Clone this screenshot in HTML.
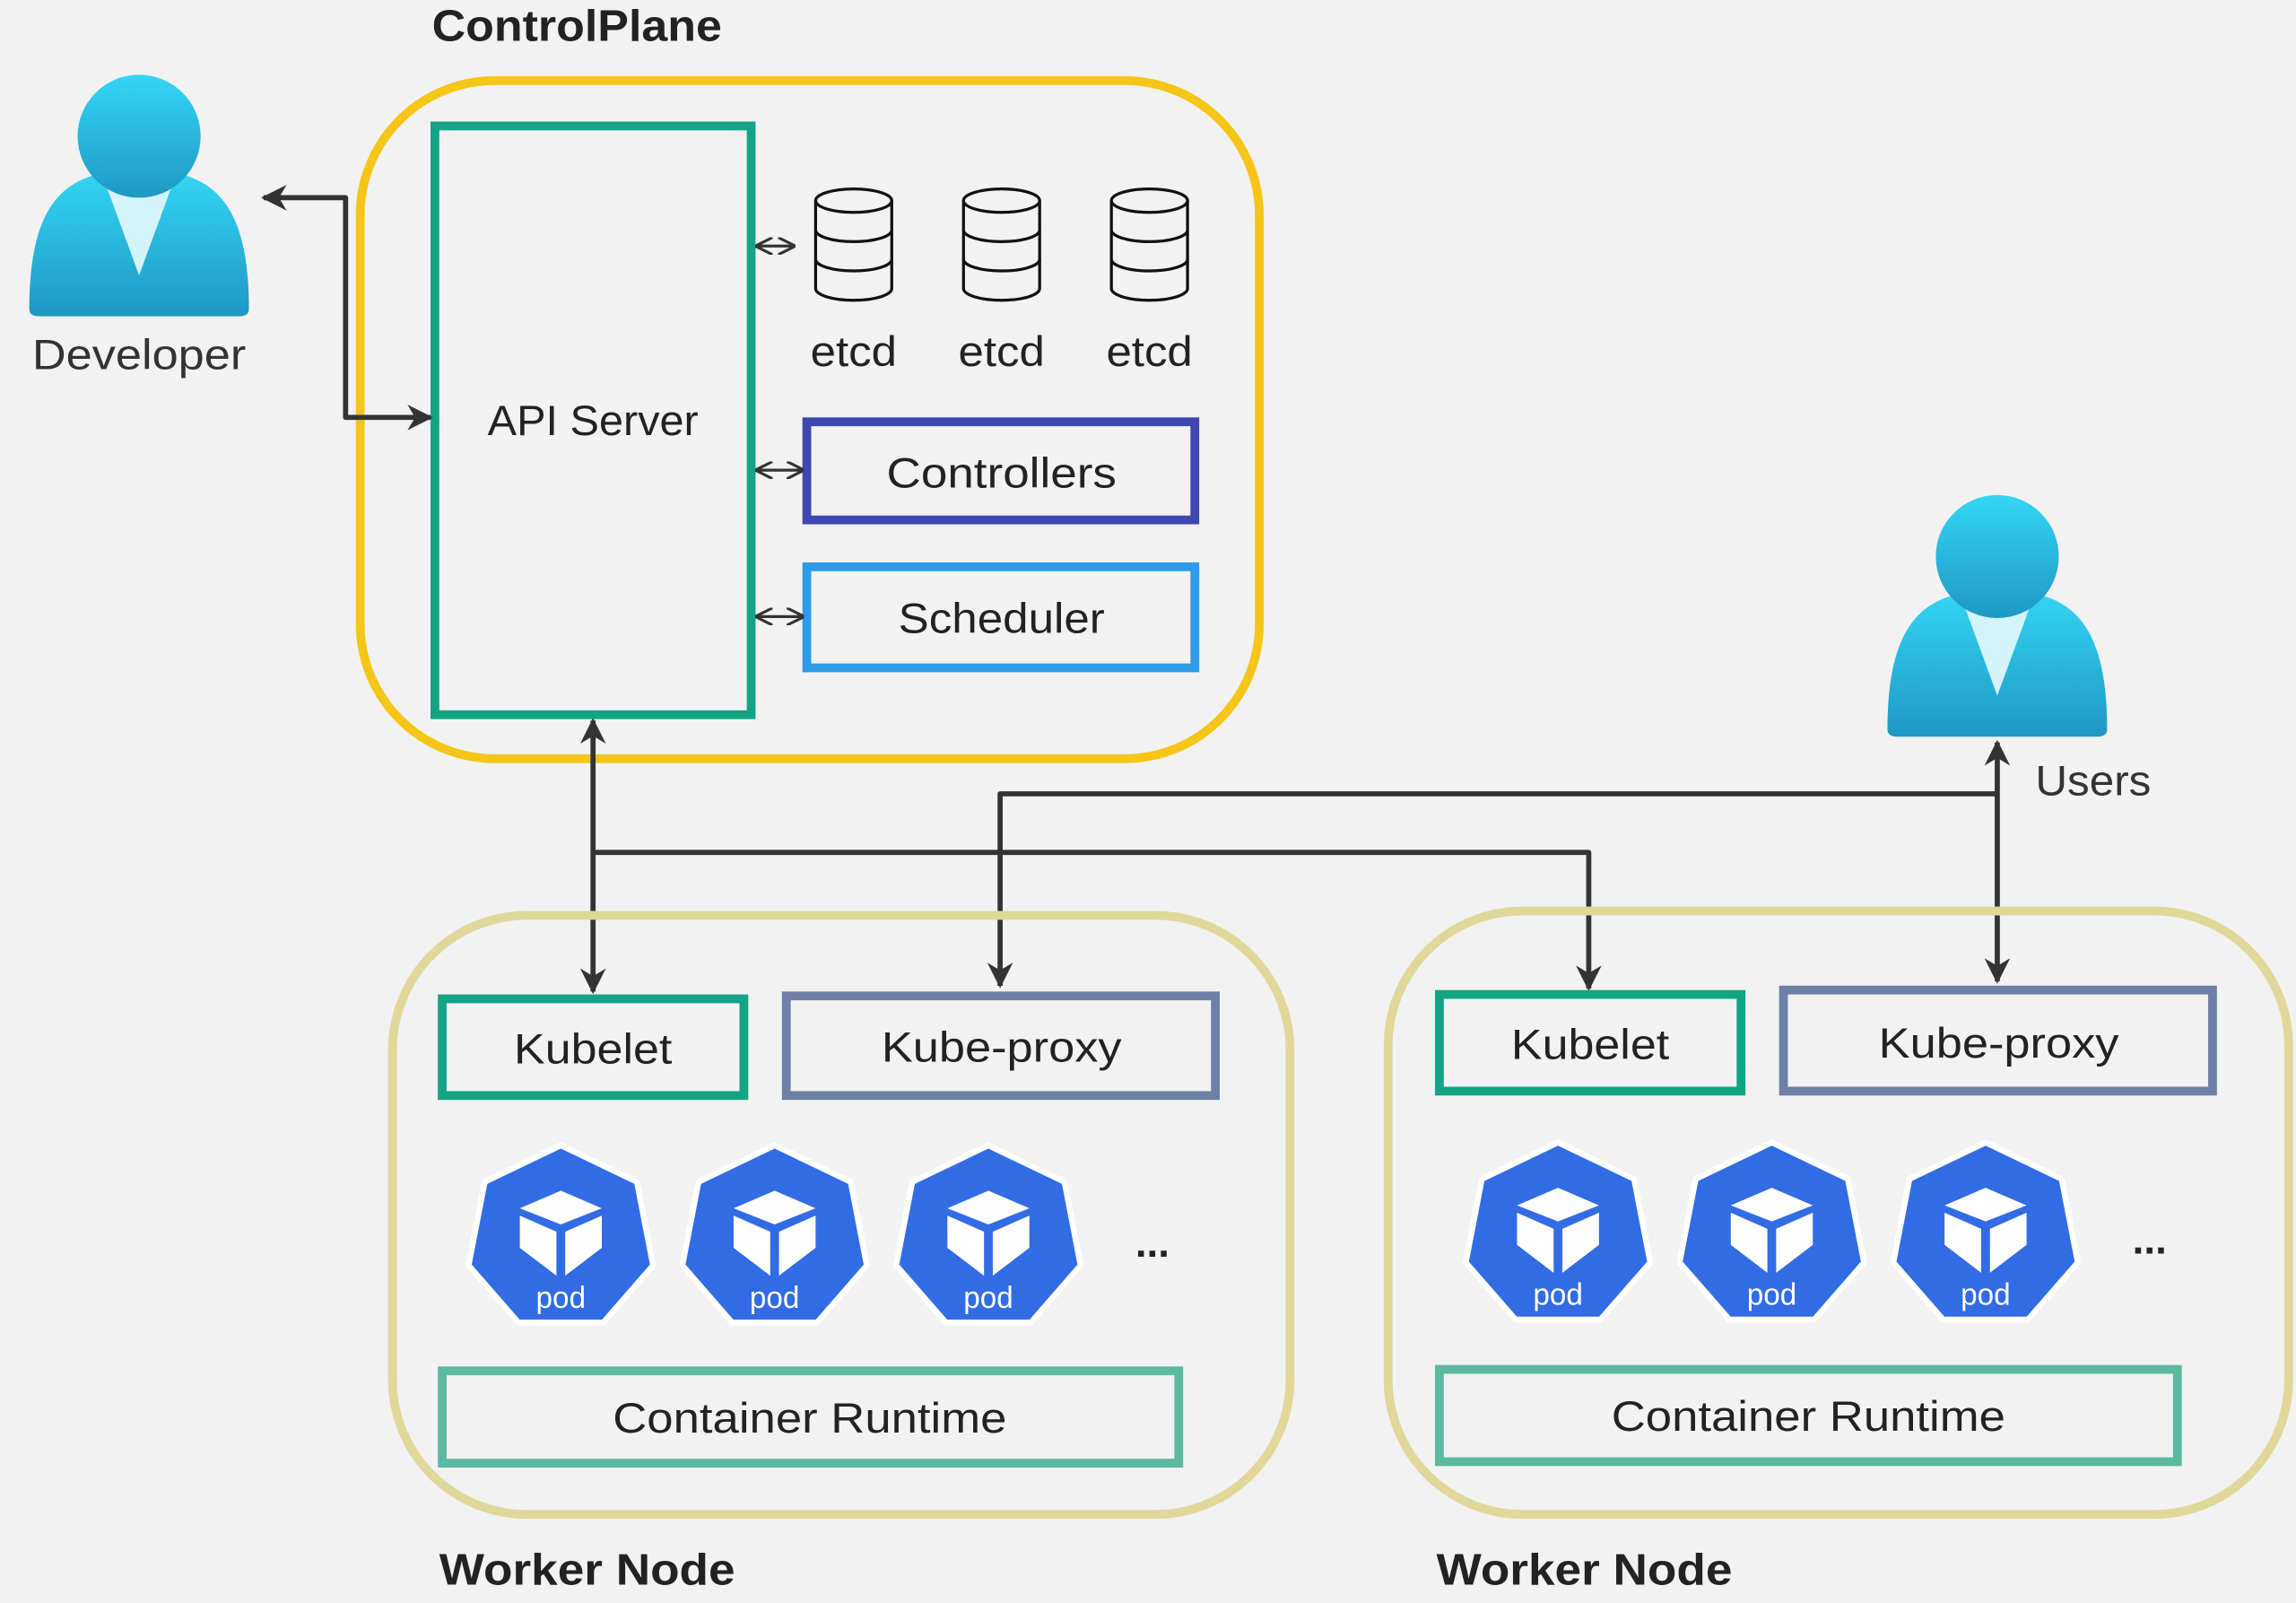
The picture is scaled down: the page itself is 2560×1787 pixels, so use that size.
<!DOCTYPE html>
<html><head><meta charset="utf-8"><style>
html,body{margin:0;padding:0;background:#f2f2f2;}
svg{display:block;}
text{font-family:"Liberation Sans",sans-serif;fill:#222;}
</style></head><body>
<svg width="2560" height="1787" viewBox="0 0 1568 1094.5" preserveAspectRatio="none" xmlns="http://www.w3.org/2000/svg">
<defs>
<linearGradient id="pg" x1="0" y1="0" x2="0" y2="1"><stop offset="0" stop-color="#34d6f5"/><stop offset="1" stop-color="#1e98c4"/></linearGradient>
<marker id="ah" viewBox="0 0 10 10" refX="9" refY="5" markerWidth="5" markerHeight="5" orient="auto-start-reverse"><path d="M0,0 L10,5 L0,10 L3,5 z" fill="#333"/></marker>
<marker id="as" viewBox="0 0 10 10" refX="9" refY="5" markerWidth="6" markerHeight="6" orient="auto-start-reverse"><path d="M0,0 L10,5 L0,10" fill="none" stroke="#333" stroke-width="1.6"/></marker>
<g id="pod">
<path d="M0,-60 L52,-35 L63,22 L29,61 L-29,61 L-63,22 L-52,-35 Z" fill="#326ce5" stroke="#fff" stroke-width="4" stroke-linejoin="round"/>
<path d="M0,-29 L28,-17 L0,-6 L-28,-17 Z" fill="#fff"/>
<path d="M-28,-12 L-3,-1 L-3,29 L-28,10 Z" fill="#fff"/>
<path d="M28,-12 L3,-1 L3,29 L28,10 Z" fill="#fff"/>
<text x="0" y="51" text-anchor="middle" font-size="21" textLength="34" lengthAdjust="spacingAndGlyphs" style="fill:#fff">pod</text>
</g>
<g id="db" fill="none" stroke="#111" stroke-width="2">
<ellipse cx="0" cy="-30" rx="26" ry="8"/>
<path d="M-26,-30 V30 A26,8 0 0 0 26,30 V-30"/>
<path d="M-26,-10 A26,8 0 0 0 26,-10"/>
<path d="M-26,10 A26,8 0 0 0 26,10"/>
</g>
<g id="person">
<path d="M-75,120 C-75,40 -45,25 0,25 C45,25 75,40 75,120 Q75,125 68,125 L-68,125 Q-75,125 -75,120 Z" fill="url(#pg)" transform="translate(0,-2)"/>
<path d="M-22,35 L0,95 L22,35 Z" fill="#d5f3fb"/>
<circle cx="0" cy="0" r="42" fill="url(#pg)"/>
</g>
</defs>

<text x="295" y="28" font-size="30" font-weight="bold" textLength="198" lengthAdjust="spacingAndGlyphs">ControlPlane</text>
<rect x="246" y="55" width="614" height="463" rx="92" fill="none" stroke="#f5c518" stroke-width="6"/>
<rect x="297" y="86" width="216" height="402" fill="none" stroke="#12a585" stroke-width="6"/>
<text x="405" y="297" text-anchor="middle" font-size="29" textLength="144" lengthAdjust="spacingAndGlyphs">API Server</text>
<use href="#db" x="583" y="167"/>
<use href="#db" x="684" y="167"/>
<use href="#db" x="785" y="167"/>
<text x="583" y="250" text-anchor="middle" font-size="29" textLength="59" lengthAdjust="spacingAndGlyphs">etcd</text>
<text x="684" y="250" text-anchor="middle" font-size="29" textLength="59" lengthAdjust="spacingAndGlyphs">etcd</text>
<text x="785" y="250" text-anchor="middle" font-size="29" textLength="59" lengthAdjust="spacingAndGlyphs">etcd</text>
<rect x="551" y="288" width="265" height="67" fill="none" stroke="#3f48b0" stroke-width="6"/>
<text x="684" y="333" text-anchor="middle" font-size="29" textLength="157" lengthAdjust="spacingAndGlyphs">Controllers</text>
<rect x="551" y="387" width="265" height="69" fill="none" stroke="#2c9be8" stroke-width="6"/>
<text x="684" y="432" text-anchor="middle" font-size="29" textLength="141" lengthAdjust="spacingAndGlyphs">Scheduler</text>
<g stroke="#333" stroke-width="2" fill="none">
<line x1="517" y1="168" x2="542" y2="168" marker-start="url(#as)" marker-end="url(#as)"/>
<line x1="517" y1="321" x2="548" y2="321" marker-start="url(#as)" marker-end="url(#as)"/>
<line x1="517" y1="421" x2="548" y2="421" marker-start="url(#as)" marker-end="url(#as)"/>
</g>

<use href="#person" x="95" y="93"/>
<text x="95" y="252" text-anchor="middle" font-size="29" textLength="146" lengthAdjust="spacingAndGlyphs" style="fill:#333">Developer</text>
<use href="#person" x="1364" y="380"/>
<text x="1390" y="543" font-size="29" textLength="79" lengthAdjust="spacingAndGlyphs" style="fill:#333">Users</text>

<g stroke="#333" stroke-width="3.5" fill="none" stroke-linejoin="round">
<path d="M180,135 H236 V285 H294" marker-start="url(#ah)" marker-end="url(#ah)"/>
<path d="M405,492 V677" marker-start="url(#ah)" marker-end="url(#ah)"/>
<path d="M405,582 H1085 V675" marker-end="url(#ah)"/>
<path d="M683,673 V542 H1364"/>
<path d="M683,660 V673" marker-end="url(#ah)"/>
<path d="M1364,507 V670" marker-start="url(#ah)" marker-end="url(#ah)"/>
</g>

<rect x="268" y="625" width="613" height="409" rx="92" fill="none" stroke="#e0d79a" stroke-width="6"/>
<rect x="302" y="682" width="206" height="66" fill="none" stroke="#12a585" stroke-width="6"/>
<text x="405" y="726" text-anchor="middle" font-size="29" textLength="108" lengthAdjust="spacingAndGlyphs">Kubelet</text>
<rect x="537" y="680" width="293" height="68" fill="none" stroke="#6e80a8" stroke-width="6"/>
<text x="684" y="725" text-anchor="middle" font-size="29" textLength="164" lengthAdjust="spacingAndGlyphs">Kube-proxy</text>
<use href="#pod" x="383" y="842"/>
<use href="#pod" x="529" y="842"/>
<use href="#pod" x="675" y="842"/>
<text x="787" y="858" text-anchor="middle" font-size="28" font-weight="bold">...</text>
<rect x="302" y="936" width="503" height="63" fill="none" stroke="#5bb9a0" stroke-width="6"/>
<text x="553" y="978" text-anchor="middle" font-size="29" textLength="269" lengthAdjust="spacingAndGlyphs">Container Runtime</text>
<text x="300" y="1082" font-size="30" font-weight="bold" textLength="202" lengthAdjust="spacingAndGlyphs">Worker Node</text>

<rect x="948" y="622" width="615" height="412" rx="92" fill="none" stroke="#e0d79a" stroke-width="6"/>
<rect x="983" y="679" width="206" height="66" fill="none" stroke="#12a585" stroke-width="6"/>
<text x="1086" y="723" text-anchor="middle" font-size="29" textLength="108" lengthAdjust="spacingAndGlyphs">Kubelet</text>
<rect x="1218" y="676" width="293" height="69" fill="none" stroke="#6e80a8" stroke-width="6"/>
<text x="1365" y="722" text-anchor="middle" font-size="29" textLength="164" lengthAdjust="spacingAndGlyphs">Kube-proxy</text>
<use href="#pod" x="1064" y="840"/>
<use href="#pod" x="1210" y="840"/>
<use href="#pod" x="1356" y="840"/>
<text x="1468" y="856" text-anchor="middle" font-size="28" font-weight="bold">...</text>
<rect x="983" y="935" width="504" height="63" fill="none" stroke="#5bb9a0" stroke-width="6"/>
<text x="1235" y="977" text-anchor="middle" font-size="29" textLength="269" lengthAdjust="spacingAndGlyphs">Container Runtime</text>
<text x="981" y="1082" font-size="30" font-weight="bold" textLength="202" lengthAdjust="spacingAndGlyphs">Worker Node</text>
</svg>
</body></html>
